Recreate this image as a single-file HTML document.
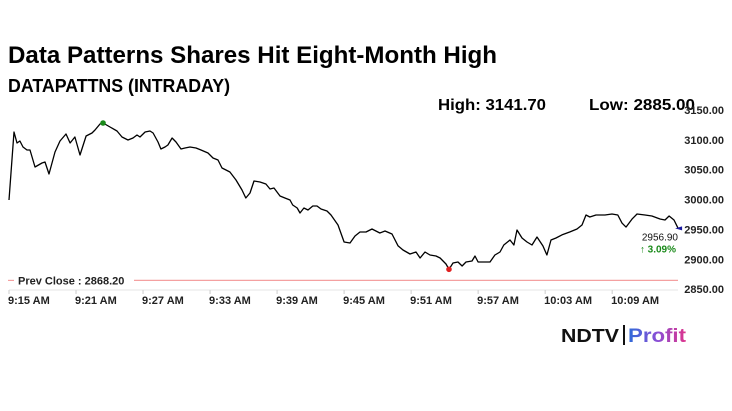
<!DOCTYPE html>
<html><head><meta charset="utf-8"><style>
html,body{margin:0;padding:0;background:#fff;}
svg{display:block;font-family:"Liberation Sans",Arial,sans-serif;}
</style></head><body>
<svg id="chart" width="732" height="411" viewBox="0 0 732 411" xmlns="http://www.w3.org/2000/svg">
<defs><linearGradient id="pg" x1="0" x2="1"><stop offset="0" stop-color="#2e6bd8"/><stop offset="0.5" stop-color="#8a4fd6"/><stop offset="1" stop-color="#e0338a"/></linearGradient></defs>
<text x="8" y="63" font-size="24" font-weight="bold" fill="#000" textLength="489" lengthAdjust="spacingAndGlyphs">Data Patterns Shares Hit Eight-Month High</text>
<text x="8" y="92" font-size="18" font-weight="bold" fill="#000" textLength="222" lengthAdjust="spacingAndGlyphs">DATAPATTNS (INTRADAY)</text>
<text x="438" y="110" font-size="16" font-weight="bold" fill="#000" textLength="108" lengthAdjust="spacingAndGlyphs">High: 3141.70</text>
<text x="589" y="110" font-size="16" font-weight="bold" fill="#000" textLength="106" lengthAdjust="spacingAndGlyphs">Low: 2885.00</text>
<g id="plot"></g>
<g>
<text x="561" y="342" font-size="18" font-weight="bold" fill="#111" textLength="58" lengthAdjust="spacingAndGlyphs">NDTV</text>
<rect x="623" y="325" width="2" height="20" fill="#111"/>
<text x="628" y="342" font-size="19" font-weight="bold" fill="url(#pg)" textLength="58" lengthAdjust="spacingAndGlyphs">Profit</text>
</g>
</svg>
<script>
const times = [0,0.45,0.72,0.98,1.25,1.61,1.88,2.33,2.95,3.22,3.58,4.12,4.57,5.1,5.47,5.9,6.36,6.9,7.43,7.7,8.15,8.42,9.04,9.67,10.12,10.65,11.1,11.46,11.73,12.18,12.62,12.9,13.34,13.6,13.97,14.23,14.6,14.95,15.4,15.76,16.2,16.74,17.19,17.82,18.26,18.71,19.07,19.43,19.78,20.32,20.86,21.2,21.58,21.93,22.47,23.0,23.37,23.72,24.26,24.7,25.16,25.4,25.8,26.05,26.4,26.77,27.2,27.57,27.93,28.47,28.83,29.45,30.0,30.53,30.98,31.42,31.96,32.5,33.2,33.66,34.29,34.83,35.27,35.9,36.44,36.8,37.24,37.69,38.23,38.59,39.12,39.39,39.75,40.2,40.56,40.91,41.45,41.72,42.0,42.44,43.06,43.5,43.96,44.3,44.85,45.2,45.48,45.93,46.37,46.82,47.27,47.8,48.16,48.52,48.97,49.5,50.2,50.85,51.3,51.66,52.0,52.55,53.36,53.98,54.5,54.88,55.24,55.77,56.22,56.94,57.56,58.28,58.73,59.1,59.53,59.9];
const prices = [3006.6,3125.9,3106.6,3110.1,3099.6,3094.3,3094.3,3064.5,3071.5,3073.3,3052.2,3090.8,3110.1,3122.4,3106.6,3117.1,3085.6,3118.9,3124.2,3129.4,3139.9,3141.7,3134.7,3127.7,3117.1,3111.9,3115.4,3120.6,3117.1,3125.9,3127.7,3124.2,3108.4,3096.1,3099.6,3103.1,3115.4,3108.4,3096.1,3097.9,3099.6,3097.9,3094.3,3089.1,3080.3,3076.8,3062.8,3059.3,3055.8,3041.7,3024.2,3010.2,3018.9,3040.0,3038.2,3034.7,3025.9,3027.7,3013.7,3010.2,3006.6,2997.9,2992.6,2983.8,2992.6,2989.1,2996.1,2996.1,2990.9,2987.4,2980.3,2962.8,2933.0,2931.2,2943.5,2950.5,2950.5,2955.8,2948.8,2952.3,2947.0,2926.0,2918.9,2911.9,2915.4,2904.9,2915.4,2910.2,2908.4,2904.9,2894.4,2885.0,2896.1,2897.9,2890.9,2897.9,2899.6,2908.4,2897.9,2897.9,2897.9,2910.2,2915.4,2927.7,2936.5,2927.7,2954.0,2940.0,2933.0,2927.7,2941.7,2926.0,2910.2,2936.5,2940.0,2945.3,2950.5,2955.8,2962.8,2980.3,2976.8,2980.3,2980.3,2982.1,2980.3,2966.0,2959.0,2973.1,2982.1,2980.3,2978.5,2973.3,2971.6,2978.5,2971.6,2956.9];
const yTicks = [3150,3100,3050,3000,2950,2900,2850];
const yTickLabels = ["3150.00","3100.00","3050.00","3000.00","2950.00","2900.00","2850.00"];
const xTicks = [0,6,12,18,24,30,36,42,48,54];
const xTickLabels = ["9:15 AM","9:21 AM","9:27 AM","9:33 AM","9:39 AM","9:45 AM","9:51 AM","9:57 AM","10:03 AM","10:09 AM"];
const prevClose = 2868.2;
const highIdx = 21, lowIdx = 91;
const lastLabel = "2956.90", changeLabel = "\u2191 3.09%";

const NS = "http://www.w3.org/2000/svg";
const g = document.getElementById('plot');
function xS(t){ return 9 + t*11.17; }
function yS(v){ return 123 + (3141.7 - v)*0.57; }
function tickY(v){ return 114 + (3150 - v)*0.597; }
function mk(tag, attrs){ const e=document.createElementNS(NS,tag); for(const k in attrs) e.setAttribute(k,attrs[k]); g.appendChild(e); return e; }

const axis = mk('line',{x1:9,x2:678,y1:290,y2:290,stroke:'#e6e6e6','stroke-width':1});


xTicks.forEach((t,i)=>{
  const tk = mk('line',{x1:xS(t),x2:xS(t),y1:290,y2:294,stroke:'#ccc'});
  
  
  const tl = mk('text',{x:xS(t)-1,y:304,'font-size':11,'font-weight':'bold',fill:'#222'});
  tl.textContent = xTickLabels[i];
  
  
});
yTicks.forEach((v,i)=>{
  const tl = mk('text',{x:724,y:tickY(v),'font-size':11,'font-weight':'bold',fill:'#222','text-anchor':'end'});
  tl.textContent = yTickLabels[i];
  
  
});
const pcY = yS(prevClose)+1.5;
const pc1 = mk('line',{x1:8,x2:14,y1:pcY,y2:pcY,stroke:'#f4a0a0','stroke-width':1.2});


const pc = mk('line',{x1:134,x2:678,y1:pcY,y2:pcY,stroke:'#f4a0a0','stroke-width':1.2});


const pct = mk('text',{x:18,y:pcY+4,'font-size':11,'font-weight':'bold',fill:'#222'});
pct.textContent = 'Prev Close : ' + prevClose.toFixed(2);



let d = '';
times.forEach((t,i)=>{ d += (i?'L':'M') + xS(t).toFixed(1) + ',' + yS(prices[i]).toFixed(1); });
const line = mk('path',{d:d,fill:'none',stroke:'#000','stroke-width':1.3,'stroke-linejoin':'round'});



const hi = mk('circle',{cx:xS(times[highIdx]),cy:yS(prices[highIdx]),r:2.8,fill:'#1a8a1a'});


const lo = mk('circle',{cx:xS(times[lowIdx]),cy:yS(prices[lowIdx]),r:2.8,fill:'#e02020'});


const n = times.length-1;
const lx = xS(times[n]), ly = yS(prices[n]);
const lm = mk('path',{d:`M${lx-3},${ly}L${lx+4},${ly-2}L${lx+4},${ly+2}Z`,fill:'#1a1aa0'});


const lt = mk('text',{x:678,y:ly+12,'font-size':10,fill:'#111','text-anchor':'end'});
lt.textContent = lastLabel;


const ct = mk('text',{x:676,y:ly+24,'font-size':10,'font-weight':'bold',fill:'#1a8a1a','text-anchor':'end'});
ct.textContent = changeLabel;


</script>
</body></html>
